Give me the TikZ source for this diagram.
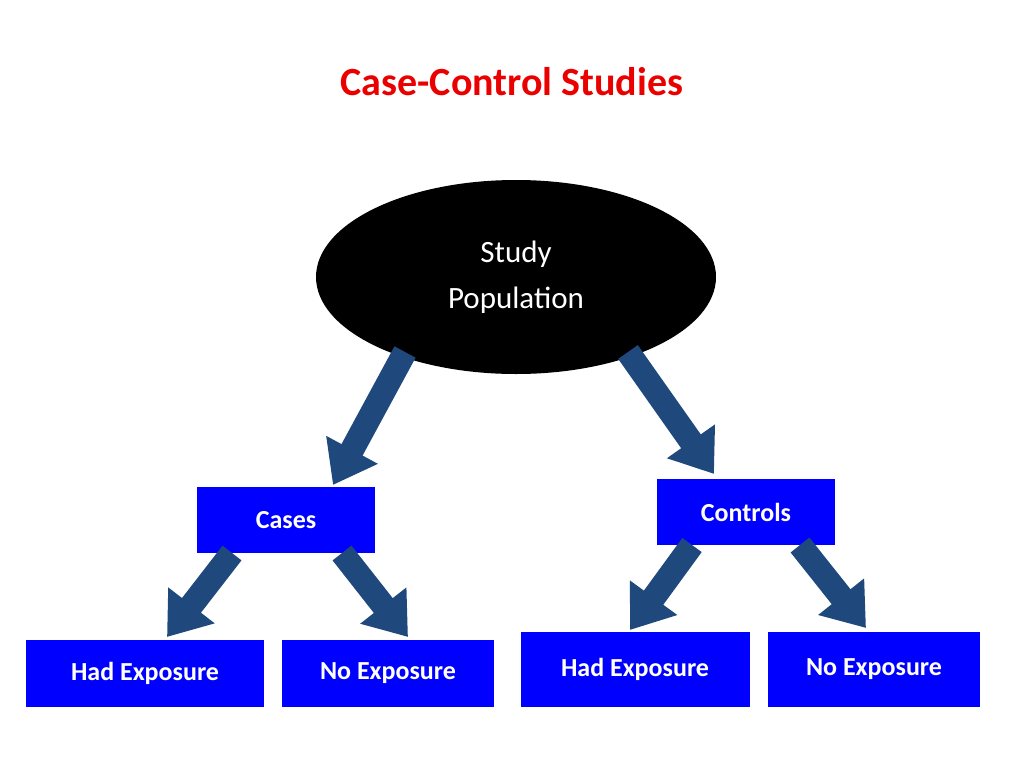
\documentclass[tikz,border=0pt]{standalone}
\usepackage{fontspec}
\setmainfont{Carlito}
\usetikzlibrary{arrows.meta,shapes.geometric}
\definecolor{boxblue}{RGB}{0,0,255}
\definecolor{arrowblue}{RGB}{31,73,125}
\definecolor{titlered}{RGB}{235,0,0}
\begin{document}
\begin{tikzpicture}[x=1pt,y=-1pt,
      box/.style={draw=none,fill=boxblue,text=white,font=\fontsize{26}{30}\selectfont\bfseries,inner sep=0pt},
      fat/.style={arrowblue,line width=24pt,-{Triangle[width=56pt,length=40pt]}}]
      \useasboundingbox (0,0) rectangle (1024,768);

      \node[text=titlered,font=\fontsize{40}{46}\selectfont\bfseries] (title) at (512,82) {Case-Control Studies};
      \node[ellipse,fill=black,minimum width=400pt,minimum height=194pt,text=white,align=center,
            font=\fontsize{31}{46}\selectfont] (pop) at (516,277) {Study\\Population};

      \node[box,minimum width=178pt,minimum height=66pt] (cases) at (286,520) {Cases};
      \node[box,minimum width=178pt,minimum height=66pt] (controls) at (746,512) {Controls};
      \node[box,minimum width=238pt,minimum height=67pt] (had1) at (145,673) {Had Exposure};
      \node[box,minimum width=212pt,minimum height=67pt] (no1) at (388,673) {No Exposure};
      \node[box,minimum width=229pt,minimum height=75pt] (had2) at (635,669) {Had Exposure};
      \node[box,minimum width=212pt,minimum height=75pt] (no2) at (874,669) {No Exposure};

      % arrow ends
      \coordinate (p1) at (405,352);  \coordinate (t1) at (333,485);
      \coordinate (p2) at (628,352);  \coordinate (t2) at (714,474);
      \coordinate (c1) at (232,553);  \coordinate (h1) at (167,637);
      \coordinate (c2) at (342,553);  \coordinate (n1) at (408,637);
      \coordinate (k1) at (692,545);  \coordinate (h2) at (630,630);
      \coordinate (k2) at (800,545);  \coordinate (n2) at (866,628);

      \draw[fat] (p1) -- (t1);
      \draw[fat] (p2) -- (t2);
      \draw[fat] (c1) -- (h1);
      \draw[fat] (c2) -- (n1);
      \draw[fat] (k1) -- (h2);
      \draw[fat] (k2) -- (n2);
\end{tikzpicture}
\end{document}
